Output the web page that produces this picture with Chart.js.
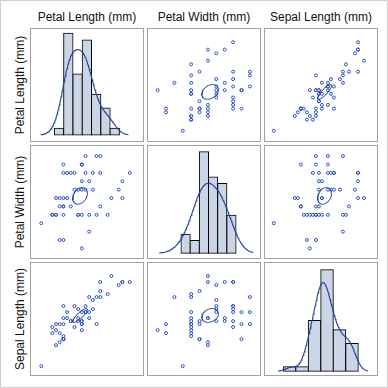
<!DOCTYPE html>
<html>
<head>
<meta charset="utf-8">
<script src="https://cdn.jsdelivr.net/npm/chart.js@4.4.0/dist/chart.umd.min.js"></script>
<style>
  html, body { margin: 0; padding: 0; background: #fff; }
  #frame { position: relative; width: 388px; height: 388px; overflow: hidden;
           font-family: "Liberation Sans", Arial, sans-serif; color: #111; }
  #outline { position: absolute; left: 0; top: 0; width: 388px; height: 388px;
             box-sizing: border-box; border: 1px solid #d0d0d0; pointer-events: none; }
  .cell { position: absolute; width: 114px; height: 114px; }
  .cell canvas { position: absolute; left: 0; top: 0; }
  .box { position: absolute; left: 0; top: 0; width: 114px; height: 114px;
         box-sizing: border-box; border: 1px solid #a2a2a2; pointer-events: none; }
  .colTitle { position: absolute; top: 10px; width: 114px; height: 14px; line-height: 14px;
              text-align: center; font-size: 12px; white-space: nowrap; }
  .rowTitle { position: absolute; width: 114px; height: 14px; line-height: 14px;
              text-align: center; font-size: 12px; white-space: nowrap;
              transform: rotate(-90deg); transform-origin: 50% 50%; }
</style>
</head>
<body>
<div id="frame"><div id="outline"></div></div>
<script>
// Iris virginica, values in mm
const petalLength = [60,51,59,56,58,66,45,63,58,61,51,53,55,50,51,53,55,67,69,50,57,49,67,49,57,60,48,49,56,58,61,64,56,51,56,61,56,55,48,54,56,51,51,59,57,52,50,52,54,51];
const petalWidth = [25,19,21,18,22,21,17,18,18,25,20,19,21,20,24,23,18,22,23,15,23,20,20,18,21,18,18,18,21,16,19,20,22,15,14,23,24,18,18,21,24,23,19,23,25,23,19,20,23,18];
const sepalLength = [63,58,71,63,65,76,49,73,67,72,65,64,68,57,58,64,65,77,77,60,69,56,77,63,67,72,62,61,64,72,74,79,64,63,61,77,63,64,60,69,67,69,58,68,67,67,63,65,62,59];

const varNames = ['Petal Length (mm)', 'Petal Width (mm)', 'Sepal Length (mm)'];
const vars = [petalLength, petalWidth, sepalLength];

// histogram bins: start, width, number of bins
const binStart = [44, 14, 45];
const binWidth = [4, 2, 6];
const binCount = [7, 6, 6];
// kernel bandwidths
const bandwidth = [3.0, 2.07, 2.83];

// axis ranges
const scatterRange = [[43.3, 71.5], [13.33, 25.73], [47.4, 82.0]];
const diagXRange = [[33.5, 82.6], [6.58, 31.45], [35.7, 90.5]];
const diagYRange = [[-1.03, 15.78], [-0.9, 17.05], [-1.02, 23.67]];

const cellLeft = [30, 147, 264];
const cellTop = [28, 145, 262];
const cellSize = 114;

const markerColor = '#2b52c4';
const lineColor = '#203f9c';
const histFill = '#cad5e5';
const F_95 = 3.1907; // F(2, 48) quantile, alpha = 0.05

const mean = a => a.reduce((s, v) => s + v, 0) / a.length;

function baseOptions(xr, yr) {
    return {
        responsive: false,
        animation: false,
        devicePixelRatio: 1,
        events: [],
        layout: { padding: 0 },
        plugins: { legend: { display: false }, tooltip: { enabled: false } },
        scales: {
            x: { type: 'linear', min: xr[0], max: xr[1], display: false, offset: false,
                 ticks: { stepSize: 1000 }, grid: { offset: false } },
            y: { type: 'linear', min: yr[0], max: yr[1], display: false,
                 ticks: { stepSize: 1000 } }
        }
    };
}

// confidence ellipse for the mean
function meanEllipse(xs, ys) {
    const n = xs.length;
    const mx = mean(xs), my = mean(ys);
    let sxx = 0, syy = 0, sxy = 0;
    for (let i = 0; i < n; i++) {
        sxx += (xs[i] - mx) ** 2;
        syy += (ys[i] - my) ** 2;
        sxy += (xs[i] - mx) * (ys[i] - my);
    }
    sxx /= n - 1; syy /= n - 1; sxy /= n - 1;
    const k = Math.sqrt(2 * (n - 1) / (n * (n - 2)) * F_95);
    const l11 = Math.sqrt(sxx), l21 = sxy / l11, l22 = Math.sqrt(syy - l21 * l21);
    const pts = [];
    for (let i = 0; i <= 72; i++) {
        const t = i / 72 * 2 * Math.PI;
        const u = Math.cos(t), v = Math.sin(t);
        pts.push({ x: mx + k * l11 * u, y: my + k * (l21 * u + l22 * v) });
    }
    return pts;
}

function histogram(vi) {
    const data = vars[vi];
    const counts = new Array(binCount[vi]).fill(0);
    data.forEach(v => {
        let b = Math.floor((v - binStart[vi]) / binWidth[vi]);
        if (b >= binCount[vi]) b = binCount[vi] - 1;
        counts[b]++;
    });
    return counts.map((c, b) => ({ x: binStart[vi] + (b + 0.5) * binWidth[vi], y: c }));
}

function kernelCurve(vi) {
    const data = vars[vi];
    const h = bandwidth[vi];
    const n = data.length;
    const lo = Math.min(...data) - 2.3 * h;
    const hi = Math.max(...data) + 2.3 * h;
    const pts = [];
    for (let i = 0; i <= 150; i++) {
        const x = lo + (hi - lo) * i / 150;
        let d = 0;
        data.forEach(v => { const z = (x - v) / h; d += Math.exp(-0.5 * z * z); });
        d = d / (n * h * Math.sqrt(2 * Math.PI));
        pts.push({ x, y: d * n * binWidth[vi] });
    }
    return pts;
}

function makeCell(r, c) {
    const frame = document.getElementById('frame');
    const cell = document.createElement('div');
    cell.className = 'cell';
    cell.style.left = cellLeft[c] + 'px';
    cell.style.top = cellTop[r] + 'px';
    const canvas = document.createElement('canvas');
    canvas.width = cellSize;
    canvas.height = cellSize;
    cell.appendChild(canvas);
    const box = document.createElement('div');
    box.className = 'box';
    cell.appendChild(box);
    frame.appendChild(cell);
    return canvas;
}

function scatterChart(canvas, xi, yi) {
    const xs = vars[xi], ys = vars[yi];
    const pts = xs.map((x, k) => ({ x, y: ys[k] }));
    new Chart(canvas, {
        type: 'scatter',
        data: {
            datasets: [
                { data: meanEllipse(xs, ys), showLine: true, borderColor: lineColor, borderWidth: 1,
                  pointRadius: 0, fill: false, tension: 0, order: 0 },
                { data: pts, pointStyle: 'circle', pointRadius: 1.5, borderWidth: 1,
                  borderColor: markerColor, backgroundColor: 'rgba(255,255,255,0)', order: 1 }
            ]
        },
        options: baseOptions(scatterRange[xi], scatterRange[yi])
    });
}

function diagChart(canvas, vi) {
    new Chart(canvas, {
        type: 'scatter',
        data: {
            datasets: [
                { type: 'line', data: kernelCurve(vi), borderColor: lineColor, borderWidth: 1.1,
                  pointRadius: 0, fill: false, tension: 0, order: 0 },
                { type: 'bar', data: histogram(vi), backgroundColor: histFill, borderColor: '#000',
                  borderWidth: 1, borderSkipped: false, barPercentage: 1, categoryPercentage: 1,
                  inflateAmount: 0.5, order: 1 }
            ]
        },
        options: baseOptions(diagXRange[vi], diagYRange[vi])
    });
}

// titles
const frame = document.getElementById('frame');
varNames.forEach((name, i) => {
    const ct = document.createElement('div');
    ct.className = 'colTitle';
    ct.style.left = cellLeft[i] + 'px';
    ct.textContent = name;
    frame.appendChild(ct);
    const rt = document.createElement('div');
    rt.className = 'rowTitle';
    rt.style.left = (20 - cellSize / 2) + 'px';
    rt.style.top = (cellTop[i] + cellSize / 2 - 7) + 'px';
    rt.textContent = name;
    frame.appendChild(rt);
});

for (let r = 0; r < 3; r++) {
    for (let c = 0; c < 3; c++) {
        const canvas = makeCell(r, c);
        if (r === c) diagChart(canvas, r);
        else scatterChart(canvas, c, r);
    }
}
</script>
</body>
</html>
